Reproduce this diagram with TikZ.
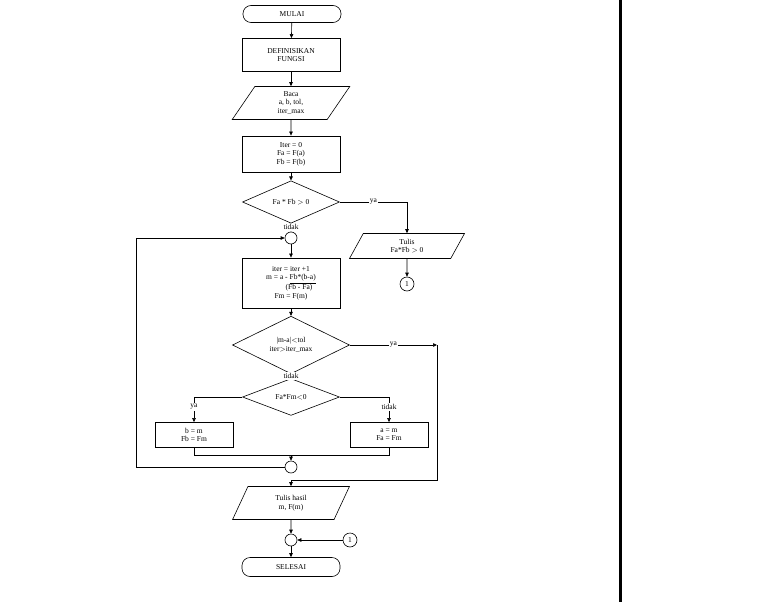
\documentclass[tikz,border=0pt]{standalone}
\usepackage{fontspec}
\setmainfont{Liberation Serif}
\usetikzlibrary{shapes.geometric,arrows.meta}
\begin{document}
\begin{tikzpicture}[x=1pt,y=-1pt,font=\fontsize{7.5}{8.5}\selectfont,semithick,
  every node/.style={align=center,inner sep=0pt},
  box/.style={draw,thick,minimum width=98pt},
  term/.style={draw,rounded corners=8pt,minimum width=98pt,minimum height=17pt},
  io/.style={draw,trapezium,trapezium left angle=70,trapezium right angle=110,trapezium stretches=true},
  dec/.style={draw,diamond,minimum width=97pt,minimum height=32pt},
  con/.style={draw,circle,minimum size=12pt},
  lab/.style={fill=white,inner sep=1pt},
  arr/.style={-{Triangle[length=4pt,width=3.5pt]}}]
\useasboundingbox (0,0) rectangle (768,602);
\fill (619,0) rectangle (622,602);
\node[term] (mulai) at (292,14) {MULAI};
\node[box,minimum height=33pt] (def) at (291,55) {DEFINISIKAN\\FUNGSI};
\node[io,minimum width=118pt,minimum height=33pt] (baca) at (291,103) {Baca\\a, b, tol,\\iter\_max};
\node[box,minimum height=36pt] (init) at (291,154) {Iter = 0\\Fa = F(a)\\Fb = F(b)};
\node[dec] (d1) at (291,202) {Fa * Fb $>$ 0};
\node[io,minimum width=115pt,minimum height=25pt] (tulis1) at (407,246) {Tulis\\Fa*Fb $>$ 0};
\node[con,minimum size=14pt] (c1a) at (407,284) {1};
\node[con] (j1) at (291,238) {};
\node[box,minimum height=50pt] (body) at (291,283) {iter = iter +1\\m = a - \underline{Fb*(b-a)}\\\hspace*{16pt}(Fb - Fa)\\Fm = F(m)};
\node[dec,minimum width=117pt,minimum height=38pt] (d2) at (291,345) {|m-a|$<$tol\\iter$>$iter\_max};
\node[dec] (d3) at (291,397) {Fa*Fm$<$0};
\node[box,minimum width=78pt,minimum height=25pt] (bm) at (194,435) {b = m\\Fb = Fm};
\node[box,minimum width=78pt,minimum height=25pt] (am) at (389,435) {a = m\\Fa = Fm};
\node[con] (j2) at (291,467) {};
\node[io,minimum width=117pt,minimum height=33pt] (hasil) at (291,503) {Tulis hasil\\m, F(m)};
\node[con] (j3) at (291,540) {};
\node[con,minimum size=14pt] (c1b) at (350,540) {1};
\node[term,minimum height=19pt] (selesai) at (291,567) {SELESAI};
\coordinate (p1) at (407,202);
\coordinate (p2) at (437,345);
\coordinate (p3) at (437,480);
\coordinate (p4) at (291,480);
\coordinate (y1) at (194,397);
\coordinate (t1) at (389,397);
\coordinate (m1) at (194,455);
\coordinate (m2) at (389,455);
\coordinate (m3) at (291,455);
\coordinate (l1) at (136,467);
\coordinate (l2) at (136,238);
\draw[arr] (mulai) -- (def);
\draw[arr] (def) -- (baca);
\draw[arr] (baca) -- (init);
\draw[arr] (init) -- (d1);
\draw[arr] (d1.east) -- node[lab]{ya} (p1) -- (tulis1);
\draw[arr] (tulis1) -- (c1a);
\draw[arr] (d1.south) -- node[lab,pos=0.45]{tidak} (j1);
\draw[arr] (j1) -- (body);
\draw[arr] (body) -- (d2);
\draw[arr] (d2.east) -- node[lab]{ya} (p2);
\draw (p2) -- (p3) -- (p4);
\draw[arr] (p4) -- (hasil);
\draw[arr] (d2.south) -- node[lab,pos=0.45]{tidak} (d3);
\draw (d3.west) -- (y1);
\draw[arr] (y1) -- node[lab,pos=0.4]{ya} (bm);
\draw (d3.east) -- (t1);
\draw[arr] (t1) -- node[lab,pos=0.4]{tidak} (am);
\draw (bm.south) -- (m1) -- (m2) -- (am.south);
\draw[arr] (m3) -- (j2);
\draw (j2) -- (l1) -- (l2);
\draw[arr] (l2) -- (j1.west);
\draw[arr] (hasil) -- (j3);
\draw[arr] (c1b) -- (j3);
\draw[arr] (j3) -- (selesai);
\end{tikzpicture}
\end{document}
